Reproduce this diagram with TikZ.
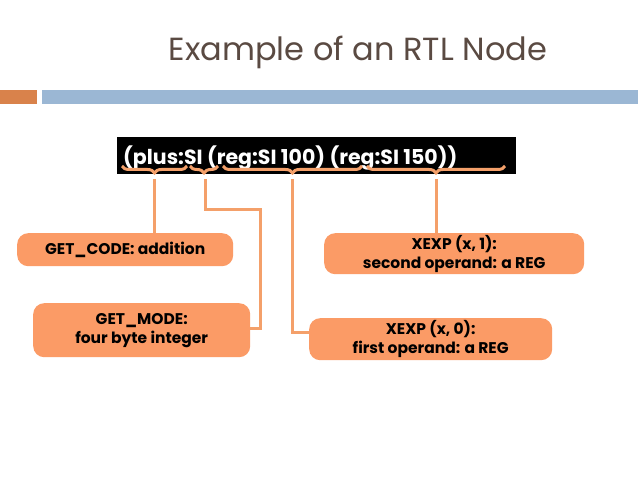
\documentclass[tikz,border=0pt]{standalone}
\usepackage{fontspec}
\setmainfont{Poppins}
\usetikzlibrary{decorations.pathreplacing}
\definecolor{boxc}{HTML}{FB9B66}
\definecolor{linec}{HTML}{F4A06A}
\definecolor{titlec}{HTML}{5A4A42}
\definecolor{barorange}{RGB}{217,130,75}
\definecolor{barblue}{RGB}{155,183,212}
\begin{document}
\begin{tikzpicture}[x=1pt,y=-1pt,
  box/.style={fill=boxc,rounded corners=11pt,font=\bfseries\fontsize{15.5}{19}\selectfont,align=center,inner sep=0pt},
  conn/.style={draw=linec,line width=3pt},
  br/.style={draw=linec,line width=3pt,decorate,decoration={brace,mirror,amplitude=7pt}}]
\useasboundingbox (0,0) rectangle (638,478);
\node[text=titlec,font=\fontsize{32}{36}\selectfont] (title) at (358,52) {Example of an RTL Node};
\fill[barorange] (0,90) rectangle (37,104);
\fill[barblue] (42,90) rectangle (638,104);
\node[fill=black,minimum width=399pt,minimum height=37pt,anchor=north west,inner sep=0pt] (code) at (117,137) {};
\node[anchor=base west,text=white,font=\bfseries\fontsize{20.5}{24}\selectfont,inner sep=0pt] (txt) at (123,165) {(plus:SI (reg:SI 100) (reg:SI 150))};
\node[box,minimum width=216pt,minimum height=33pt,anchor=north west] (gc) at (17,233) {GET\_CODE: addition};
\node[box,minimum width=217pt,minimum height=54pt,anchor=north west] (gm) at (33,303) {GET\_MODE:\\four byte integer};
\node[box,minimum width=260pt,minimum height=41pt,anchor=north west] (x1) at (324,233) {XEXP (x, 1):\\second operand: a REG};
\node[box,minimum width=243pt,minimum height=42pt,anchor=north west] (x0) at (309,318) {XEXP (x, 0):\\first operand: a REG};
\coordinate (b1l) at (122,166); \coordinate (b1r) at (187,166);
\coordinate (b2l) at (190,166); \coordinate (b2r) at (218,166);
\coordinate (b3l) at (223,166); \coordinate (b3r) at (362,166);
\coordinate (b4l) at (367,166); \coordinate (b4r) at (505,166);
\draw[br] (b1l) -- (b1r);
\draw[br] (b2l) -- (b2r);
\draw[br] (b3l) -- (b3r);
\draw[br] (b4l) -- (b4r);
\draw[conn] (154,179) -- (gc.north -| 154,0);
\draw[conn] (205,179) -- (205,210) -- (260,210) -- (260,329) -- (gm.east |- 0,329);
\draw[conn] (292,179) -- (292,333) -- (x0.west |- 0,333);
\draw[conn] (436,179) -- (x1.north -| 436,0);
\end{tikzpicture}
\end{document}
